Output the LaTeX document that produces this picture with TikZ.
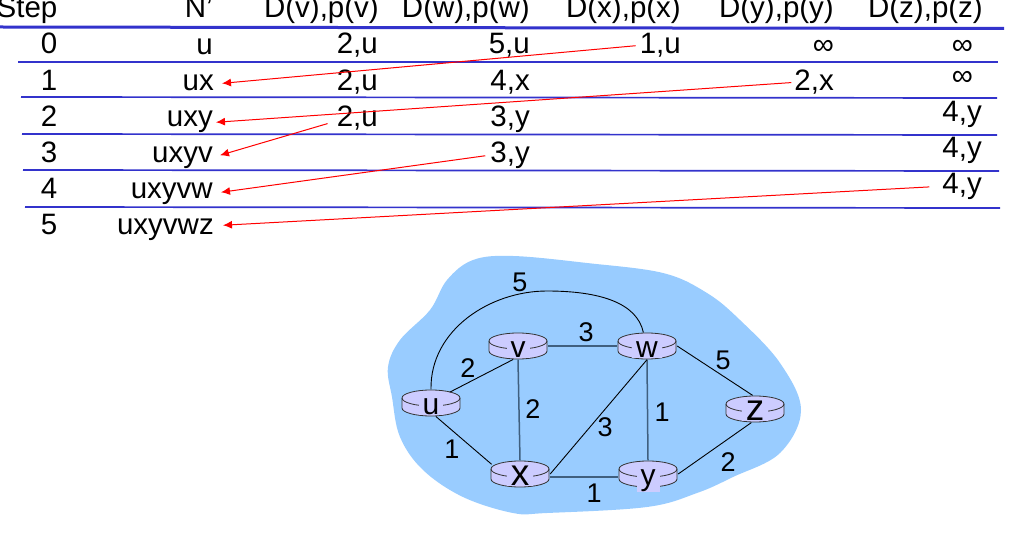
\documentclass[tikz,border=0pt]{standalone}
\usepackage{fontspec}
\setmainfont{Liberation Sans}
\usetikzlibrary{arrows.meta,shapes.geometric}

\definecolor{rulecolor}{HTML}{3333CC}
\definecolor{cloudcolor}{HTML}{99CCFF}
\definecolor{routercolor}{HTML}{CCCCFF}
\definecolor{edgecolor}{HTML}{3F5F7F}

\tikzset{
    cell/.style={anchor=base east, inner sep=3pt, font=\fontsize{29.5}{31}\selectfont},
    stepcell/.style={anchor=base, inner sep=0pt, font=\fontsize{29.5}{31}\selectfont},
    rowline/.style={rulecolor, line width=1.7pt},
    picked/.style={red, line width=1pt, -{Latex[length=9pt,width=8pt]}},
    router/.style={ellipse, minimum width=60pt, minimum height=27pt, inner sep=0pt},
    routertext/.style={anchor=base, fill=routercolor, inner ysep=1pt, inner xsep=4pt, font=\fontsize{#1}{#1}\selectfont},
    link/.style={black, line width=0.9pt},
    straightlink/.style={edgecolor, line width=1.5pt},
    cost/.style={inner sep=0pt, font=\fontsize{27}{27}\selectfont},
}

% #1 font size, #2 name, #3 x, #4 y, #5 text
\newcommand{\drawrouter}[5][30]{
    \begin{scope}[shift={(#3,#4)}]
        \draw [fill=routercolor, draw=black!80, line width=0.8pt] (-29,-5) -- (-29,5)
            arc [start angle=180, end angle=360, x radius=29pt, y radius=8pt] -- (29,-5)
            arc [start angle=0, end angle=180, x radius=29pt, y radius=8pt] -- cycle;
        \draw [draw=black!80, line width=0.8pt] (-29,-5)
            arc [start angle=180, end angle=360, x radius=29pt, y radius=8pt];
        \node [routertext=#1] (#2text) at (0,11) {#5};
    \end{scope}
    \node [router] (#2) at (#3,#4) {};
}

\begin{document}
\begin{tikzpicture}[x=1pt, y=-1pt]

    \useasboundingbox (0,0) rectangle (1022,534);
    \clip (0,0) rectangle (1022,534);

    % table head
    \node [stepcell] (headstep) at (27,18) {Step};
    \node [cell] (headn) at (216,18) {N'};
    \node [cell] (headv) at (382,18) {D(v),p(v)};
    \node [cell] (headw) at (533,18) {D(w),p(w)};
    \node [cell] (headx) at (684,18) {D(x),p(x)};
    \node [cell] (heady) at (837,18) {D(y),p(y)};
    \node [cell] (headz) at (986,18) {D(z),p(z)};

    % rules
    \draw [rulecolor, line width=3pt] (0,27) -- (1004,28.5);
    \draw [rowline] (18,62) -- (998,62);
    \draw [rowline] (21,97) -- (997,98);
    \draw [rowline] (22,134) -- (997,135);
    \draw [rowline] (23,170) -- (999,171);
    \draw [rowline] (25,207) -- (1000,208);

    % step column
    \node [stepcell] (step0) at (49,54) {0};
    \node [stepcell] (step1) at (49,91) {1};
    \node [stepcell] (step2) at (49,127) {2};
    \node [stepcell] (step3) at (49,163) {3};
    \node [stepcell] (step4) at (49,199) {4};
    \node [stepcell] (step5) at (49,235) {5};

    % N' column
    \node [cell] (n0) at (216,55) {u};
    \node [cell] (n1) at (217,91) {ux};
    \node [cell] (n2) at (216,127) {uxy};
    \node [cell] (n3) at (216,163) {uxyv};
    \node [cell] (n4) at (216,199) {uxyvw};
    \node [cell] (n5) at (217,235) {uxyvwz};

    % values
    \node [cell] (v0) at (381,54) {2,u};
    \node [cell] (v1) at (381,91) {2,u};
    \node [cell] (v2) at (381,127) {2,u};
    \node [cell] (w0) at (533,54) {5,u};
    \node [cell] (w1) at (533,91) {4,x};
    \node [cell] (w2) at (533,127) {3,y};
    \node [cell] (w3) at (533,163) {3,y};
    \node [cell] (x0) at (684,54) {1,u};
    \node [cell] (y0) at (837,55) {∞};
    \node [cell] (y1) at (837,91) {2,x};
    \node [cell] (z0) at (976,55) {∞};
    \node [cell] (z1) at (976,86) {∞};
    \node [cell] (z2) at (985,122) {4,y};
    \node [cell] (z3) at (985,158) {4,y};
    \node [cell] (z4) at (985,194) {4,y};

    % picked entries
    \draw [picked] ([xshift=-1pt]x0.west) -- ([xshift=5pt]n1.east);
    \draw [picked] (y1.west) -- (n2.east);
    \draw [picked] ([xshift=-6pt,yshift=-5pt]v2.west) -- ([xshift=4pt,yshift=3pt]n3.east);
    \draw [picked] ([xshift=-2pt]w3.west) -- ([xshift=5pt,yshift=2pt]n4.east);
    \draw [picked] ([xshift=-10pt]z4.west) -- ([xshift=6pt,yshift=5pt]n5.east);

    % network
    \fill [cloudcolor] plot [smooth cycle, tension=0.6] coordinates {
        (388,367) (400,340) (430,310) (447,280) (473,260) (513,256) (587,263) (663,273)
        (707,293) (740,320) (780,363) (801,410) (780,453) (733,477) (697,493) (647,507)
        (547,513) (513,513) (463,497) (423,470) (400,437) (392,397)};

    \drawrouter{u}{431}{403}{u}
    \drawrouter{v}{518}{346}{v}
    \drawrouter{w}{647}{346}{w}
    \drawrouter[37]{z}{755}{409}{z}
    \drawrouter[37]{x}{520}{474}{x}
    \drawrouter{y}{648}{474}{y}

    \draw [link] (u.north) .. controls (430,330) and (490,291) .. (547,291)
        .. controls (600,291) and (637,303) .. (w.105);
    \draw [link] (u.30) -- (v.250);
    \draw [link] (u.-70) -- ([xshift=-7pt]x.north west);
    \draw [straightlink] (v.east) -- (w.west);
    \draw [straightlink] (v.south) -- (x.north);
    \draw [straightlink] ([yshift=-3pt]x.east) -- ([yshift=-3pt]y.west);
    \draw [straightlink] (w.south) -- (y.north);
    \draw [link] (x.east) -- (w.south);
    \draw [link] (w.east) -- (z.100);
    \draw [link] (y.east) -- (z.255);

    \node [cost] (costuw) at (520,282) {5};
    \node [cost] (costvw) at (586,332) {3};
    \node [cost] (costuv) at (468,368) {2};
    \node [cost] (costvx) at (533,409) {2};
    \node [cost] (costxw) at (605,427) {3};
    \node [cost] (costwy) at (662,412) {1};
    \node [cost] (costwz) at (723,360) {5};
    \node [cost] (costux) at (452,449) {1};
    \node [cost] (costxy) at (594,493) {1};
    \node [cost] (costyz) at (728,462) {2};

\end{tikzpicture}
\end{document}
